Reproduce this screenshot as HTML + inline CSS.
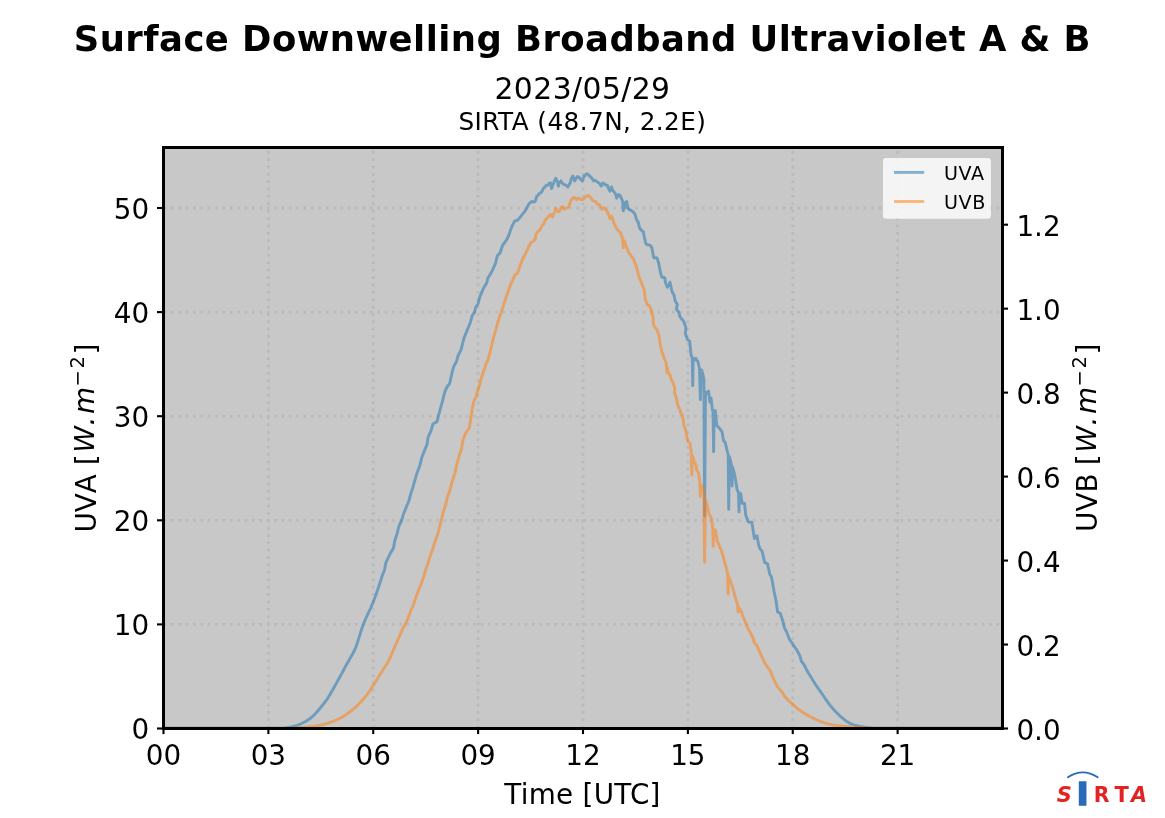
<!DOCTYPE html>
<html lang="en"><head><meta charset="utf-8"><title>Surface Downwelling Broadband Ultraviolet A &amp; B</title>
<style>
html,body{margin:0;padding:0;background:#fff;}
body{width:1165px;height:818px;overflow:hidden;}
svg{display:block;}
text{font-family:"DejaVu Sans","Liberation Sans",sans-serif;fill:#000;}
.t{font-size:27.8px;}
.it{font-style:oblique;}
</style></head><body>
<svg width="1165" height="818" viewBox="0 0 1165 818">
<rect width="1165" height="818" fill="#ffffff"/>
<rect x="163.5" y="147.5" width="839.0" height="581.0" fill="#c8c8c8"/>
<defs><clipPath id="ax"><rect x="163.5" y="147.5" width="839.0" height="581.0"/></clipPath></defs>

<g clip-path="url(#ax)" stroke="#bababa" stroke-width="2.78" stroke-dasharray="2.78 4.59" fill="none">
<line x1="268.38" y1="728.5" x2="268.38" y2="147.5"/>
<line x1="373.25" y1="728.5" x2="373.25" y2="147.5"/>
<line x1="478.12" y1="728.5" x2="478.12" y2="147.5"/>
<line x1="583.00" y1="728.5" x2="583.00" y2="147.5"/>
<line x1="687.88" y1="728.5" x2="687.88" y2="147.5"/>
<line x1="792.75" y1="728.5" x2="792.75" y2="147.5"/>
<line x1="897.62" y1="728.5" x2="897.62" y2="147.5"/>
<line x1="163.5" y1="624.40" x2="1002.5" y2="624.40"/>
<line x1="163.5" y1="520.30" x2="1002.5" y2="520.30"/>
<line x1="163.5" y1="416.20" x2="1002.5" y2="416.20"/>
<line x1="163.5" y1="312.10" x2="1002.5" y2="312.10"/>
<line x1="163.5" y1="208.00" x2="1002.5" y2="208.00"/>
</g>
<g clip-path="url(#ax)" fill="none" stroke-width="2.9" stroke-linejoin="round" stroke-linecap="butt">
<path d="M163.5,728.2 L283.0,728.2 L284.0,728.1 L285.0,728.0 L286.0,727.8 L287.0,727.7 L288.0,727.5 L289.0,727.3 L290.0,727.1 L291.0,726.9 L292.0,726.7 L293.0,726.4 L294.0,726.2 L295.0,725.9 L296.0,725.6 L297.0,725.3 L298.0,724.9 L299.0,724.6 L300.0,724.2 L301.0,723.8 L302.0,723.3 L303.0,722.8 L304.0,722.3 L305.0,721.8 L306.0,721.2 L307.0,720.6 L308.0,720.0 L309.0,719.3 L310.0,718.5 L311.0,717.8 L312.0,716.9 L313.0,716.0 L314.0,715.0 L315.0,714.0 L316.0,712.9 L317.0,711.8 L318.0,710.7 L319.0,709.5 L320.0,708.3 L321.0,707.0 L322.0,705.8 L323.0,704.6 L324.0,703.3 L325.0,702.0 L326.0,700.7 L327.0,699.3 L328.0,697.7 L329.0,696.1 L330.0,694.5 L331.0,692.8 L332.0,691.1 L333.0,689.3 L334.0,687.5 L335.0,685.7 L336.0,683.9 L337.0,682.1 L338.0,680.3 L339.0,678.5 L340.0,676.7 L341.0,674.9 L342.0,673.1 L343.0,671.2 L344.0,669.3 L345.0,667.4 L346.0,665.6 L347.0,663.8 L348.0,662.0 L349.0,660.2 L350.0,658.4 L351.0,656.7 L352.0,655.0 L353.0,653.2 L354.0,651.3 L355.0,649.2 L356.0,646.7 L357.0,643.9 L358.0,640.8 L359.0,637.6 L360.0,634.3 L361.0,631.1 L362.0,628.0 L363.0,625.2 L364.0,622.6 L365.0,620.3 L366.0,618.0 L367.0,615.8 L368.0,613.7 L369.0,611.6 L370.0,609.5 L371.0,607.3 L372.0,604.9 L373.0,602.5 L374.0,599.9 L375.0,597.3 L376.0,594.5 L377.0,591.7 L378.0,588.7 L379.0,585.8 L380.0,582.7 L380.2,582.1 L382.2,575.7 L384.7,569.6 L385.8,562.8 L388.6,556.8 L390.8,552.4 L393.4,548.4 L394.7,541.0 L397.0,534.0 L398.7,526.9 L401.6,520.3 L403.6,513.7 L406.2,507.3 L408.8,501.0 L410.8,493.7 L413.1,486.6 L415.1,479.4 L417.3,472.2 L420.0,465.1 L421.7,457.6 L424.5,450.6 L427.1,444.2 L428.1,437.1 L431.0,430.8 L432.9,424.1 L434.9,422.8 L437.0,421.7 L440.1,409.7 L442.6,400.7 L444.9,391.7 L446.9,387.2 L449.7,383.3 L452.1,372.4 L453.7,366.6 L456.5,361.4 L458.1,355.6 L460.9,350.1 L462.5,344.0 L464.0,338.2 L466.1,332.7 L468.4,327.2 L470.6,321.7 L472.1,315.8 L474.6,312.1 L475.6,307.5 L478.1,303.8 L479.5,297.9 L481.7,292.4 L484.1,287.0 L486.7,283.1 L487.8,278.3 L490.3,274.3 L492.5,270.2 L495.5,263.3 L497.3,255.8 L500.0,253.0 L502.6,245.3 L504.8,242.3 L506.9,239.3 L508.8,235.1 L510.3,230.7 L512.2,225.8 L514.6,221.2 L517.2,220.4 L519.9,217.6 L522.3,214.4 L525.2,210.8 L527.5,206.7 L529.1,203.6 L531.8,201.5 L532.9,201.8 L534.1,202.1 L535.2,201.2 L536.9,196.0 L538.4,195.1 L539.3,193.3 L541.0,192.7 L542.1,191.2 L543.1,188.8 L544.9,187.1 L546.4,185.2 L548.0,185.0 L549.1,183.4 L550.6,183.0 L551.5,188.6 L553.2,184.3 L554.3,181.2 L555.8,178.3 L557.5,182.0 L558.4,186.1 L559.1,183.1 L560.9,180.9 L562.0,182.8 L563.5,184.3 L565.1,184.8 L566.5,185.7 L567.8,186.9 L569.1,184.8 L570.4,182.6 L571.1,179.1 L573.0,176.1 L574.7,180.9 L576.0,178.8 L577.3,176.6 L578.8,177.0 L579.8,178.3 L581.0,179.7 L582.4,180.9 L584.1,175.8 L585.4,175.5 L586.2,174.0 L587.6,174.0 L588.8,175.0 L589.7,176.3 L591.0,177.1 L592.4,178.9 L593.6,180.9 L594.8,180.2 L596.1,180.9 L597.3,181.8 L598.3,182.8 L599.6,183.5 L601.3,186.1 L603.0,183.0 L604.4,183.7 L605.6,185.1 L607.3,185.2 L608.5,188.3 L609.9,191.2 L611.6,186.9 L612.4,189.8 L614.2,192.1 L615.9,194.8 L616.7,198.1 L618.5,194.6 L620.1,195.5 L621.0,197.2 L622.7,201.5 L623.3,210.9 L623.9,202.4 L625.3,207.5 L626.7,201.5 L627.9,208.4 L629.0,209.6 L630.5,210.1 L631.8,210.8 L633.0,211.8 L634.7,213.7 L635.6,216.1 L636.4,219.4 L638.2,222.1 L639.9,229.0 L641.2,229.6 L642.0,231.0 L643.3,231.5 L644.4,237.6 L645.9,243.6 L647.2,244.7 L648.7,244.9 L650.2,245.3 L651.9,247.9 L653.6,257.3 L654.7,258.0 L656.0,257.6 L657.1,258.2 L658.7,263.2 L659.7,268.5 L661.4,276.2 L662.3,277.3 L663.7,277.2 L664.8,277.9 L665.5,282.8 L667.4,287.3 L668.9,284.9 L670.0,282.2 L671.7,290.1 L672.6,292.7 L674.0,295.0 L675.2,301.0 L677.3,304.5 L676.4,309.1 L678.8,312.4 L679.8,316.3 L681.1,318.4 L682.9,320.1 L684.1,322.3 L685.9,327.9 L685.4,334.0 L687.5,339.5 L688.5,340.5 L689.7,341.2 L691.0,355.0 L692.3,357.5 L692.7,385.8 L693.2,358.0 L694.4,359.2 L696.1,358.4 L696.5,360.7 L697.8,361.0 L699.5,368.7 L700.4,399.6 L701.3,370.0 L701.8,370.4 L703.5,377.3 L703.9,380.0 L704.6,516.0 L705.5,392.0 L706.4,393.6 L708.6,391.0 L709.8,402.1 L711.0,397.9 L712.4,409.9 L713.1,412.0 L713.6,451.8 L714.2,411.0 L715.3,410.7 L716.7,425.2 L717.6,426.2 L720.0,428.9 L722.1,432.0 L723.5,440.6 L725.2,442.3 L727.8,453.5 L728.2,455.0 L728.7,509.3 L729.2,456.5 L729.6,457.0 L731.5,465.0 L732.0,486.0 L732.5,467.0 L734.7,475.0 L737.3,490.4 L738.5,492.5 L739.0,511.8 L739.5,493.0 L740.7,493.8 L742.1,503.3 L744.5,503.3 L745.8,515.3 L748.4,522.1 L750.1,522.1 L751.8,522.1 L754.4,538.5 L757.0,535.9 L758.7,545.3 L759.9,548.6 L762.1,551.3 L764.7,562.3 L767.6,564.0 L769.8,574.3 L771.5,576.9 L774.1,591.5 L776.2,601.8 L777.6,612.1 L780.1,613.0 L782.7,620.7 L784.4,627.6 L786.3,631.3 L787.9,635.3 L789.5,639.5 L792.1,643.0 L794.2,646.4 L796.5,649.5 L799.6,655.2 L801.5,661.5 L804.0,664.5 L806.7,670.0 L807.7,671.7 L808.7,673.4 L809.7,675.0 L810.7,676.7 L811.7,678.3 L812.7,680.0 L813.7,681.6 L814.7,683.2 L815.7,684.7 L816.7,686.2 L817.7,687.7 L818.7,689.1 L819.7,690.5 L820.7,691.9 L821.7,693.3 L822.7,694.8 L823.7,696.3 L824.7,697.8 L825.7,699.3 L826.7,700.7 L827.7,702.1 L828.7,703.4 L829.7,704.8 L830.7,706.1 L831.7,707.3 L832.7,708.4 L833.7,709.6 L834.7,710.6 L835.7,711.7 L836.7,712.7 L837.7,713.7 L838.7,714.6 L839.7,715.6 L840.7,716.5 L841.7,717.4 L842.7,718.2 L843.7,719.1 L844.7,719.9 L845.7,720.7 L846.7,721.4 L847.7,722.0 L848.7,722.6 L849.7,723.2 L850.7,723.7 L851.7,724.1 L852.7,724.5 L853.7,724.9 L854.7,725.2 L855.7,725.4 L856.7,725.7 L857.7,725.9 L858.7,726.1 L859.7,726.3 L860.7,726.5 L861.7,726.6 L862.7,726.8 L863.7,727.0 L864.7,727.1 L865.7,727.3 L866.7,727.4 L867.7,727.6 L868.7,727.7 L869.7,727.8 L870.7,727.9 L871.7,728.0 L872.7,728.1 L873.7,728.2 L1002.5,728.2" stroke="#1f77b4" stroke-opacity="0.54"/>
<path d="M163.5,728.2 L295.0,728.2 L296.0,728.1 L297.0,728.0 L298.0,727.9 L299.0,727.8 L300.0,727.7 L301.0,727.6 L302.0,727.5 L303.0,727.4 L304.0,727.3 L305.0,727.2 L306.0,727.1 L307.0,727.0 L308.0,726.9 L309.0,726.8 L310.0,726.7 L311.0,726.6 L312.0,726.5 L313.0,726.4 L314.0,726.2 L315.0,726.1 L316.0,725.9 L317.0,725.8 L318.0,725.6 L319.0,725.4 L320.0,725.2 L321.0,725.0 L322.0,724.8 L323.0,724.6 L324.0,724.3 L325.0,724.0 L326.0,723.7 L327.0,723.4 L328.0,723.1 L329.0,722.8 L330.0,722.4 L331.0,722.1 L332.0,721.7 L333.0,721.4 L334.0,721.0 L335.0,720.5 L336.0,720.1 L337.0,719.7 L338.0,719.2 L339.0,718.7 L340.0,718.2 L341.0,717.7 L342.0,717.2 L343.0,716.6 L344.0,716.0 L345.0,715.3 L346.0,714.7 L347.0,713.9 L348.0,713.2 L349.0,712.5 L350.0,711.7 L351.0,711.0 L352.0,710.2 L353.0,709.4 L354.0,708.5 L355.0,707.7 L356.0,706.8 L357.0,705.9 L358.0,704.9 L359.0,703.9 L360.0,702.8 L361.0,701.7 L362.0,700.5 L363.0,699.4 L364.0,698.2 L365.0,697.1 L366.0,695.9 L367.0,694.7 L368.0,693.4 L369.0,692.0 L370.0,690.5 L371.0,688.9 L372.0,687.4 L373.0,685.8 L374.0,684.2 L375.0,682.6 L376.0,681.0 L377.0,679.4 L378.0,677.8 L379.0,676.2 L380.0,674.6 L381.0,673.0 L382.0,671.4 L383.0,669.8 L384.0,668.2 L385.0,666.7 L386.0,665.2 L387.0,663.6 L388.0,661.9 L389.0,660.0 L390.0,657.9 L391.0,655.6 L392.0,653.3 L393.0,651.0 L394.0,648.7 L395.0,646.4 L396.0,644.1 L397.0,641.8 L398.0,639.4 L399.0,637.1 L399.4,636.1 L401.3,632.2 L402.9,628.0 L405.4,624.4 L407.6,619.3 L409.5,614.0 L411.6,608.8 L413.8,603.7 L416.0,597.2 L418.3,590.8 L421.0,584.5 L423.5,577.3 L425.6,569.9 L428.2,562.8 L430.0,556.3 L432.4,550.1 L434.3,543.6 L437.5,535.0 L439.4,527.7 L441.3,520.3 L443.1,512.5 L445.6,504.9 L447.4,497.1 L450.2,489.6 L452.1,481.8 L454.9,473.1 L456.9,464.2 L459.3,455.4 L461.7,448.3 L462.8,440.8 L465.3,433.7 L467.4,430.7 L469.4,427.7 L472.5,407.3 L473.8,401.7 L476.1,396.5 L477.8,390.5 L479.7,384.5 L481.7,376.5 L484.5,368.8 L486.0,363.8 L488.2,359.2 L490.2,351.6 L492.0,344.0 L493.8,336.4 L496.1,329.1 L497.7,322.5 L499.8,316.1 L502.1,309.8 L504.1,303.2 L506.4,296.6 L508.6,290.1 L510.3,285.0 L512.7,280.3 L514.6,275.3 L517.2,273.6 L519.7,266.7 L522.3,259.9 L524.0,256.4 L525.8,253.0 L528.2,247.8 L530.9,242.7 L532.5,241.9 L533.8,240.5 L535.2,239.3 L536.1,234.1 L537.0,232.1 L538.8,230.9 L540.3,229.4 L541.2,227.3 L542.5,225.1 L544.2,223.2 L544.9,220.7 L546.4,218.7 L547.8,217.3 L549.2,215.7 L550.6,214.4 L552.4,217.0 L553.4,214.1 L554.9,211.4 L555.8,208.4 L557.0,210.1 L558.4,211.8 L559.9,210.4 L560.7,208.4 L561.8,206.7 L563.4,207.5 L564.4,209.2 L565.7,208.2 L567.4,207.9 L568.7,206.7 L569.7,204.0 L570.5,201.2 L572.1,198.9 L573.8,197.2 L575.3,198.2 L576.4,199.8 L577.4,198.4 L579.0,198.1 L579.9,199.3 L581.0,199.8 L582.4,199.8 L583.8,198.8 L584.8,197.4 L585.8,196.0 L587.0,196.4 L588.1,195.5 L589.3,196.0 L590.6,197.4 L591.5,199.1 L592.7,200.6 L593.9,201.0 L595.2,201.2 L596.1,202.4 L597.2,204.0 L599.0,204.6 L600.4,205.8 L602.1,209.2 L603.9,207.5 L605.0,208.9 L606.3,210.2 L607.3,211.8 L608.8,215.1 L609.9,218.7 L611.6,216.1 L612.9,219.2 L613.5,222.5 L615.0,225.5 L616.1,227.9 L617.6,229.8 L618.8,231.2 L620.3,232.3 L621.0,234.1 L622.7,239.3 L623.3,247.9 L624.5,241.0 L625.4,244.6 L627.0,247.9 L628.8,253.0 L630.1,254.2 L631.0,255.9 L632.2,257.3 L633.8,259.3 L634.3,262.0 L635.6,264.2 L636.9,268.4 L637.9,272.7 L639.1,277.0 L640.3,279.9 L641.5,282.7 L642.5,285.6 L644.2,290.1 L645.3,299.5 L646.4,301.8 L647.0,304.4 L649.5,305.7 L650.4,308.1 L651.3,310.5 L653.1,317.1 L653.4,324.1 L654.3,326.4 L655.8,328.4 L657.3,330.2 L659.0,335.8 L659.8,341.7 L660.9,347.5 L661.8,351.2 L662.9,354.9 L664.3,358.4 L665.9,362.0 L666.4,366.0 L666.9,373.0 L667.4,368.0 L668.2,372.1 L670.3,375.5 L671.1,379.2 L672.9,382.4 L674.7,387.4 L674.6,392.9 L676.4,397.9 L677.1,402.0 L678.2,406.1 L679.8,409.9 L680.9,413.0 L682.5,415.8 L683.2,419.0 L683.8,425.0 L685.8,430.5 L687.5,440.6 L688.6,442.0 L690.0,443.2 L691.3,453.0 L691.8,475.0 L692.3,456.0 L693.6,458.9 L694.3,462.0 L696.1,465.5 L696.5,469.8 L698.6,473.2 L699.8,482.0 L700.3,496.4 L700.8,484.5 L702.9,488.7 L703.9,492.0 L704.6,562.3 L705.5,500.0 L707.2,505.8 L708.9,513.6 L711.5,518.7 L712.7,528.0 L713.2,546.2 L713.8,530.0 L715.3,529.9 L717.5,541.8 L719.7,546.7 L721.8,551.6 L723.5,557.8 L725.2,564.0 L727.6,573.0 L728.1,594.1 L728.6,576.0 L730.2,580.8 L732.1,585.5 L734.6,594.9 L737.6,605.0 L738.1,612.0 L738.6,607.0 L741.5,612.1 L742.9,616.6 L744.9,620.7 L746.7,625.8 L748.7,629.8 L750.9,633.6 L753.0,638.1 L754.4,643.0 L757.0,645.6 L758.6,649.5 L760.4,653.3 L762.5,658.0 L764.6,662.7 L766.3,665.3 L768.1,667.9 L770.3,670.8 L772.0,675.5 L774.1,680.0 L777.2,686.3 L779.8,689.3 L782.3,692.5 L784.4,696.0 L785.4,697.1 L786.4,698.2 L787.4,699.2 L788.4,700.2 L789.4,701.2 L790.4,702.2 L791.4,703.2 L792.4,704.1 L793.4,705.0 L794.4,705.8 L795.4,706.7 L796.4,707.5 L797.4,708.4 L798.4,709.2 L799.4,709.9 L800.4,710.6 L801.4,711.3 L802.4,712.0 L803.4,712.7 L804.4,713.3 L805.4,713.9 L806.4,714.5 L807.4,715.1 L808.4,715.7 L809.4,716.3 L810.4,716.8 L811.4,717.3 L812.4,717.8 L813.4,718.3 L814.4,718.8 L815.4,719.3 L816.4,719.7 L817.4,720.2 L818.4,720.6 L819.4,721.0 L820.4,721.4 L821.4,721.8 L822.4,722.1 L823.4,722.4 L824.4,722.8 L825.4,723.1 L826.4,723.4 L827.4,723.7 L828.4,723.9 L829.4,724.2 L830.4,724.4 L831.4,724.6 L832.4,724.8 L833.4,725.0 L834.4,725.1 L835.4,725.3 L836.4,725.4 L837.4,725.6 L838.4,725.7 L839.4,725.8 L840.4,725.9 L841.4,726.0 L842.4,726.1 L843.4,726.2 L844.4,726.3 L845.4,726.4 L846.4,726.5 L847.4,726.5 L848.4,726.6 L849.4,726.7 L850.4,726.8 L851.4,726.8 L852.4,726.9 L853.4,727.0 L854.4,727.1 L855.4,727.1 L856.4,727.2 L857.4,727.3 L858.4,727.3 L859.4,727.4 L860.4,727.5 L861.4,727.6 L862.4,727.6 L863.4,727.7 L864.4,727.8 L865.4,727.8 L866.4,727.9 L867.4,727.9 L868.4,728.0 L869.4,728.1 L870.4,728.1 L871.4,728.2 L1002.5,728.2" stroke="#ff7f0e" stroke-opacity="0.54"/>
</g>
<rect x="883" y="158" width="107.9" height="60.8" rx="3" ry="3" fill="#ffffff" fill-opacity="0.8"/>
<line x1="894" y1="172.4" x2="924.2" y2="172.4" stroke="#1f77b4" stroke-opacity="0.54" stroke-width="2.9"/>
<line x1="894" y1="201.5" x2="924.2" y2="201.5" stroke="#ff7f0e" stroke-opacity="0.54" stroke-width="2.9"/>
<text x="943.9" y="179.9" font-size="19.1" letter-spacing="0.6">UVA</text>
<text x="943.9" y="209.1" font-size="19.1" letter-spacing="0.6">UVB</text>
<g stroke="#000" stroke-width="2.1" fill="none">
<line x1="163.50" y1="728.5" x2="163.50" y2="734.1"/>
<line x1="268.38" y1="728.5" x2="268.38" y2="734.1"/>
<line x1="373.25" y1="728.5" x2="373.25" y2="734.1"/>
<line x1="478.12" y1="728.5" x2="478.12" y2="734.1"/>
<line x1="583.00" y1="728.5" x2="583.00" y2="734.1"/>
<line x1="687.88" y1="728.5" x2="687.88" y2="734.1"/>
<line x1="792.75" y1="728.5" x2="792.75" y2="734.1"/>
<line x1="897.62" y1="728.5" x2="897.62" y2="734.1"/>
<line x1="163.5" y1="728.50" x2="157.0" y2="728.50"/>
<line x1="163.5" y1="624.40" x2="157.0" y2="624.40"/>
<line x1="163.5" y1="520.30" x2="157.0" y2="520.30"/>
<line x1="163.5" y1="416.20" x2="157.0" y2="416.20"/>
<line x1="163.5" y1="312.10" x2="157.0" y2="312.10"/>
<line x1="163.5" y1="208.00" x2="157.0" y2="208.00"/>
<line x1="1002.5" y1="728.50" x2="1008.0" y2="728.50"/>
<line x1="1002.5" y1="644.53" x2="1008.0" y2="644.53"/>
<line x1="1002.5" y1="560.56" x2="1008.0" y2="560.56"/>
<line x1="1002.5" y1="476.59" x2="1008.0" y2="476.59"/>
<line x1="1002.5" y1="392.62" x2="1008.0" y2="392.62"/>
<line x1="1002.5" y1="308.65" x2="1008.0" y2="308.65"/>
<line x1="1002.5" y1="224.68" x2="1008.0" y2="224.68"/>
</g>
<rect x="163.5" y="147.5" width="839.0" height="581.0" fill="none" stroke="#000" stroke-width="3"/>
<text class="t" x="163.50" y="764.8" text-anchor="middle">00</text>
<text class="t" x="268.38" y="764.8" text-anchor="middle">03</text>
<text class="t" x="373.25" y="764.8" text-anchor="middle">06</text>
<text class="t" x="478.12" y="764.8" text-anchor="middle">09</text>
<text class="t" x="583.00" y="764.8" text-anchor="middle">12</text>
<text class="t" x="687.88" y="764.8" text-anchor="middle">15</text>
<text class="t" x="792.75" y="764.8" text-anchor="middle">18</text>
<text class="t" x="897.62" y="764.8" text-anchor="middle">21</text>
<text class="t" x="149.2" y="739.20" text-anchor="end">0</text>
<text class="t" x="149.2" y="635.10" text-anchor="end">10</text>
<text class="t" x="149.2" y="531.00" text-anchor="end">20</text>
<text class="t" x="149.2" y="426.90" text-anchor="end">30</text>
<text class="t" x="149.2" y="322.80" text-anchor="end">40</text>
<text class="t" x="149.2" y="218.70" text-anchor="end">50</text>
<text class="t" x="1016.4" y="740.10">0.0</text>
<text class="t" x="1016.4" y="656.13">0.2</text>
<text class="t" x="1016.4" y="572.16">0.4</text>
<text class="t" x="1016.4" y="488.19">0.6</text>
<text class="t" x="1016.4" y="404.22">0.8</text>
<text class="t" x="1016.4" y="320.25">1.0</text>
<text class="t" x="1016.4" y="236.28">1.2</text>
<text class="t" x="582.5" y="803.9" text-anchor="middle" letter-spacing="0.28">Time [UTC]</text>
<text transform="translate(94.4,530.2) rotate(-90)" style="font-kerning:none"><tspan x="-2.40" y="1.10" font-size="27.80">UVA </tspan><tspan x="64.90" y="1.10" font-size="27.80">[</tspan><tspan x="77.60" y="0.00" font-size="26.69" class="it">W</tspan><tspan x="104.70" y="0.00" font-size="27.80" class="it">.</tspan><tspan x="116.30" y="0.00" font-size="27.80" class="it">m</tspan><tspan x="143.80" y="-10.20" font-size="19.46">−</tspan><tspan x="161.60" y="-10.20" font-size="19.46">2</tspan><tspan x="175.80" y="1.10" font-size="27.80">]</tspan></text>
<text transform="translate(1096.1,530.2) rotate(-90)" style="font-kerning:none"><tspan x="-1.70" y="1.10" font-size="27.80">UVB </tspan><tspan x="64.90" y="1.10" font-size="27.80">[</tspan><tspan x="77.60" y="0.00" font-size="26.69" class="it">W</tspan><tspan x="104.70" y="0.00" font-size="27.80" class="it">.</tspan><tspan x="116.30" y="0.00" font-size="27.80" class="it">m</tspan><tspan x="143.80" y="-10.20" font-size="19.46">−</tspan><tspan x="161.60" y="-10.20" font-size="19.46">2</tspan><tspan x="175.80" y="1.10" font-size="27.80">]</tspan></text>
<text x="582.4" y="51" text-anchor="middle" font-size="35.4" letter-spacing="0.45" font-weight="bold">Surface Downwelling Broadband Ultraviolet A &amp; B</text>
<text x="582.5" y="98.9" text-anchor="middle" font-size="29.8" letter-spacing="0.43">2023/05/29</text>
<text x="582.4" y="129.8" text-anchor="middle" font-size="24.7" letter-spacing="0.45">SIRTA (48.7N, 2.2E)</text>
<g>
<path d="M1067.9,777.2 Q1082.7,767.4 1097.7,777.2" fill="none" stroke="#2a6ab8" stroke-width="1.8" stroke-linecap="round"/>
<text text-anchor="middle" font-size="21" font-weight="bold" style="fill:#e32322"><tspan x="1064.2" y="801.7" font-style="oblique">S</tspan><tspan x="1082.6" y="804.6" font-size="31.6" style="fill:#2a6ab8;stroke:#2a6ab8;stroke-width:1.7px">I</tspan><tspan x="1101.5" y="801.7" font-size="20.4">R</tspan><tspan x="1121.6" y="801.7">T</tspan><tspan x="1139.0" y="801.7" font-size="20.6" font-style="oblique">A</tspan></text>
</g>
</svg></body></html>
